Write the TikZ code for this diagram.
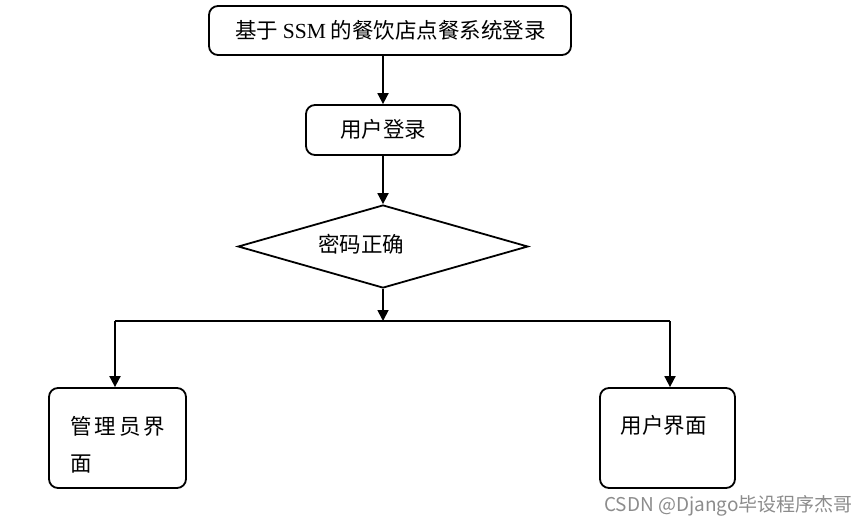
\documentclass[tikz,border=0pt]{standalone}
\usepackage{fontspec}
\setmainfont{Liberation Serif}
\newfontfamily\cjk{Noto Sans CJK SC}
\usetikzlibrary{arrows.meta,shapes.geometric}
\begin{document}
\begin{tikzpicture}[x=1pt,y=-1pt,
  box/.style={draw,line width=1.8pt,rounded corners=9pt,inner sep=0pt},
  txt/.style={font=\fontsize{21.5}{26}\selectfont\cjk,inner sep=0pt},
  conn/.style={line width=1.8pt},
  arr/.style={conn,-{Triangle[length=11pt,width=11pt]}}]
\useasboundingbox (0,0) rectangle (868,528);
% boxes
\node[box,minimum width=362pt,minimum height=49pt] (start) at (390,30.5) {};
\node[txt] (starttxt) at (390.5,30) {\cjk 基于\ {\rmfamily SSM} 的餐饮店点餐系统登录};
\node[box,minimum width=154pt,minimum height=50pt] (login) at (383,130) {};
\node[txt] (logintxt) at (383,129) {用户登录};
\node[diamond,draw,line width=1.8pt,minimum width=290pt,minimum height=83pt,inner sep=0pt,aspect=3.5] (check) at (383,246.5) {};
\node[txt] (checktxt) at (361,244) {密码正确};
\node[box,minimum width=137pt,minimum height=100pt] (admin) at (117.5,438) {};
\node[txt,anchor=west,align=left] (admintxt1) at (70,426) {管\kern3pt 理\kern3pt 员\kern3pt 界};
\node[txt,anchor=west] (admintxt2) at (70,464) {面};
\node[box,minimum width=135pt,minimum height=100pt] (user) at (667.5,438) {};
\node[txt] (usertxt) at (663.5,425) {用户界面};
% connectors
\coordinate (s1) at (383,55);
\coordinate (split) at (383,321);
\coordinate (L) at (115,321);
\coordinate (R) at (670,321);
\draw[arr] (s1) -- (login.north);
\draw[arr] (login.south) -- (check.north);
\draw[arr] (check.south) -- (split);
\draw[conn] (L) -- (R);
\draw[arr] (L) -- (L |- admin.north);
\draw[arr] (R) -- (R |- user.north);
% watermark
\node[font=\fontsize{19}{22}\selectfont\cjk,text=black!45,anchor=east,inner sep=0pt] (wm) at (853,506) {CSDN @Django毕设程序杰哥};
\end{tikzpicture}
\end{document}
